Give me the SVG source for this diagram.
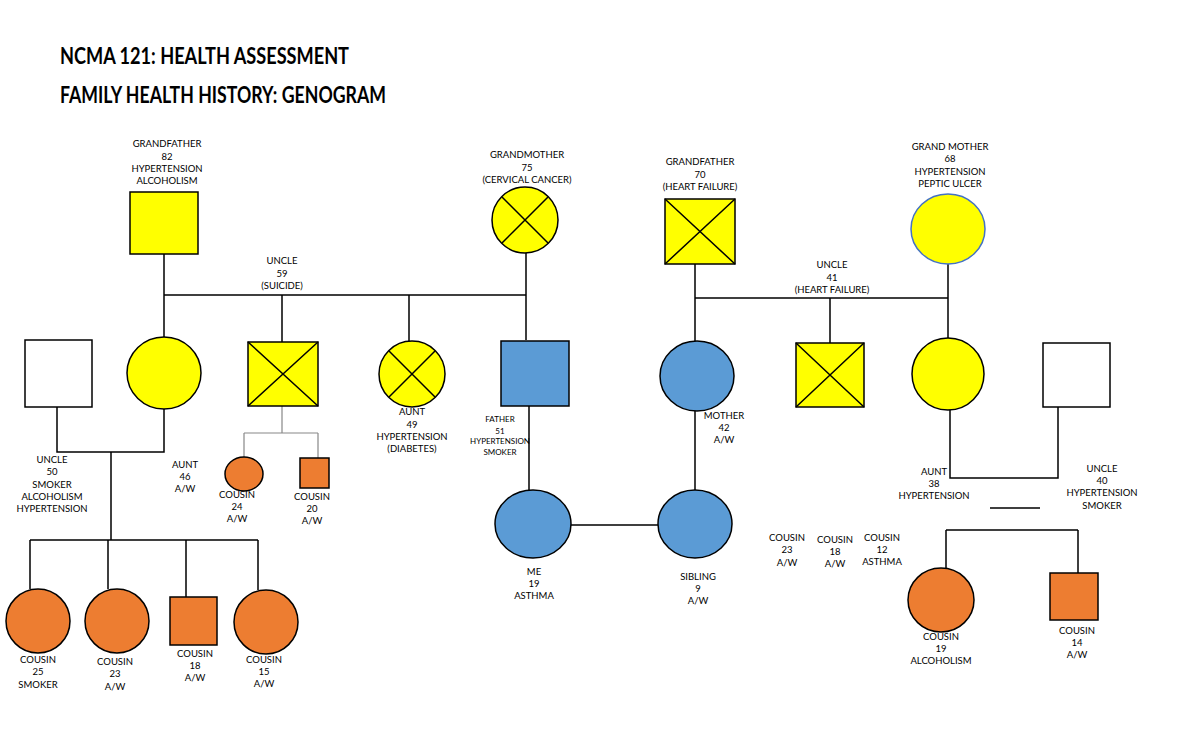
<svg xmlns="http://www.w3.org/2000/svg" width="1200" height="729" viewBox="0 0 1200 729">
<style>
.t{font-family:Lato,"Liberation Sans",sans-serif;font-size:9.5px;fill:#000;text-anchor:middle}
.s{font-size:8px}
.h{font-family:Lato,"Liberation Sans",sans-serif;font-size:22px;font-weight:bold;fill:#000}
.y{fill:#ffff00;stroke:#000;stroke-width:1.5}
.b{fill:#5b9bd5;stroke:#000;stroke-width:1.5}
.o{fill:#ed7d31;stroke:#000;stroke-width:1.5}
.w{fill:#fff;stroke:#000;stroke-width:1.5}
.l{stroke:#000;stroke-width:1.5;fill:none}
.g{stroke:#888;stroke-width:1.2;fill:none}
</style>
<rect width="1200" height="729" fill="#fff"/>
<text class="h" x="60" y="64" textLength="289" lengthAdjust="spacingAndGlyphs">NCMA 121: HEALTH ASSESSMENT</text>
<text class="h" x="60" y="103" textLength="326" lengthAdjust="spacingAndGlyphs">FAMILY HEALTH HISTORY: GENOGRAM</text>
<g id="connectors">
<path class="l" d="M164 254V295M164 295H526M526 253V340M164 295V337M282 295V342M409 295V341"/>
<path class="l" d="M695 264V341M695 298H948M948 264V338M830 298V343"/>
<path class="l" d="M57 407V452H164V409M111 452V540M30 540H258M30 540V589M108 540V589M186 540V597M258 540V590"/>
<path class="g" d="M282 406V433M244 433H318M244 433V457M318 433V458"/>
<path class="l" d="M529 406V490M695 411V490M571 525H658"/>
<path class="l" d="M950 410V478H1058V407M990 508H1040M946 530H1078M946 530V568M1078 530V573"/>
</g>
<g id="gf1"><rect class="y" x="130" y="192" width="68" height="62"/>
<text class="t"><tspan x="167" y="147">GRANDFATHER</tspan><tspan x="167" y="160">82</tspan><tspan x="167" y="172">HYPERTENSION</tspan><tspan x="167" y="184">ALCOHOLISM</tspan></text></g>
<g id="gm1"><circle class="y" cx="525" cy="220" r="33"/><path class="l" d="M502 197L548 243M548 197L502 243"/>
<text class="t"><tspan x="527" y="158">GRANDMOTHER</tspan><tspan x="527" y="171">75</tspan><tspan x="527" y="183">(CERVICAL CANCER)</tspan></text></g>
<g id="gf2"><rect class="y" x="665" y="199" width="70" height="65"/><path class="l" d="M665 199L735 264M735 199L665 264"/>
<text class="t"><tspan x="700" y="165">GRANDFATHER</tspan><tspan x="700" y="178">70</tspan><tspan x="700" y="190">(HEART FAILURE)</tspan></text></g>
<g id="gm2"><ellipse cx="948" cy="229" rx="37" ry="35" fill="#ffff00" stroke="#4472c4" stroke-width="1.5"/>
<text class="t"><tspan x="950" y="150">GRAND MOTHER</tspan><tspan x="950" y="162">68</tspan><tspan x="950" y="175">HYPERTENSION</tspan><tspan x="950" y="187">PEPTIC ULCER</tspan></text></g>
<g id="uncle50"><rect class="w" x="25" y="340" width="67" height="67"/>
<text class="t"><tspan x="52" y="463">UNCLE</tspan><tspan x="52" y="475">50</tspan><tspan x="52" y="488">SMOKER</tspan><tspan x="52" y="500">ALCOHOLISM</tspan><tspan x="52" y="512">HYPERTENSION</tspan></text></g>
<g id="aunt46"><ellipse class="y" cx="164" cy="373" rx="37" ry="36"/>
<text class="t"><tspan x="185" y="468">AUNT</tspan><tspan x="185" y="480">46</tspan><tspan x="185" y="492">A/W</tspan></text></g>
<g id="uncle59"><rect class="y" x="248" y="342" width="70" height="64"/><path class="l" d="M248 342L318 406M318 342L248 406"/>
<text class="t"><tspan x="282" y="264">UNCLE</tspan><tspan x="282" y="277">59</tspan><tspan x="282" y="289">(SUICIDE)</tspan></text></g>
<g id="aunt49"><circle class="y" cx="412" cy="374" r="33"/><path class="l" d="M389 351L435 397M435 351L389 397"/>
<text class="t"><tspan x="412" y="415">AUNT</tspan><tspan x="412" y="428">49</tspan><tspan x="412" y="440">HYPERTENSION</tspan><tspan x="412" y="452">(DIABETES)</tspan></text></g>
<g id="father"><rect class="b" x="501" y="341" width="68" height="65"/>
<text class="t s"><tspan x="500" y="422">FATHER</tspan><tspan x="500" y="434">51</tspan><tspan x="500" y="444">HYPERTENSION</tspan><tspan x="500" y="455">SMOKER</tspan></text></g>
<g id="mother"><ellipse class="b" cx="697" cy="376" rx="37" ry="35"/>
<text class="t"><tspan x="724" y="419">MOTHER</tspan><tspan x="724" y="431">42</tspan><tspan x="724" y="443">A/W</tspan></text></g>
<g id="uncle41"><rect class="y" x="796" y="343" width="68" height="64"/><path class="l" d="M796 343L864 407M864 343L796 407"/>
<text class="t"><tspan x="832" y="268">UNCLE</tspan><tspan x="832" y="281">41</tspan><tspan x="832" y="293">(HEART FAILURE)</tspan></text></g>
<g id="aunt38"><ellipse class="y" cx="948" cy="374" rx="36" ry="36"/>
<text class="t"><tspan x="934" y="475">AUNT</tspan><tspan x="934" y="487">38</tspan><tspan x="934" y="499">HYPERTENSION</tspan></text></g>
<g id="uncle40"><rect class="w" x="1043" y="343" width="67" height="64"/>
<text class="t"><tspan x="1102" y="472">UNCLE</tspan><tspan x="1102" y="484">40</tspan><tspan x="1102" y="496">HYPERTENSION</tspan><tspan x="1102" y="509">SMOKER</tspan></text></g>
<g id="c24"><ellipse class="o" cx="244" cy="474" rx="19" ry="17"/>
<text class="t"><tspan x="237" y="498">COUSIN</tspan><tspan x="237" y="510">24</tspan><tspan x="237" y="522">A/W</tspan></text></g>
<g id="c20"><rect class="o" x="300" y="458" width="29" height="30"/>
<text class="t"><tspan x="312" y="500">COUSIN</tspan><tspan x="312" y="512">20</tspan><tspan x="312" y="524">A/W</tspan></text></g>
<g id="c25"><circle class="o" cx="38" cy="621" r="32"/>
<text class="t"><tspan x="38" y="663">COUSIN</tspan><tspan x="38" y="675">25</tspan><tspan x="38" y="688">SMOKER</tspan></text></g>
<g id="c23a"><circle class="o" cx="117" cy="621" r="32"/>
<text class="t"><tspan x="115" y="665">COUSIN</tspan><tspan x="115" y="677">23</tspan><tspan x="115" y="690">A/W</tspan></text></g>
<g id="c18a"><rect class="o" x="170" y="597" width="47" height="48"/>
<text class="t"><tspan x="195" y="657">COUSIN</tspan><tspan x="195" y="669">18</tspan><tspan x="195" y="681">A/W</tspan></text></g>
<g id="c15"><circle class="o" cx="266" cy="622" r="32"/>
<text class="t"><tspan x="264" y="663">COUSIN</tspan><tspan x="264" y="675">15</tspan><tspan x="264" y="687">A/W</tspan></text></g>
<g id="me"><ellipse class="b" cx="533" cy="524" rx="38" ry="34"/>
<text class="t"><tspan x="534" y="575">ME</tspan><tspan x="534" y="587">19</tspan><tspan x="534" y="599">ASTHMA</tspan></text></g>
<g id="sibling"><ellipse class="b" cx="695" cy="524" rx="37" ry="34"/>
<text class="t"><tspan x="698" y="580">SIBLING</tspan><tspan x="698" y="592">9</tspan><tspan x="698" y="604">A/W</tspan></text></g>
<g id="floating">
<text class="t"><tspan x="787" y="541">COUSIN</tspan><tspan x="787" y="553">23</tspan><tspan x="787" y="566">A/W</tspan></text>
<text class="t"><tspan x="835" y="543">COUSIN</tspan><tspan x="835" y="555">18</tspan><tspan x="835" y="567">A/W</tspan></text>
<text class="t"><tspan x="882" y="541">COUSIN</tspan><tspan x="882" y="553">12</tspan><tspan x="882" y="565">ASTHMA</tspan></text></g>
<g id="c19"><ellipse class="o" cx="941" cy="600" rx="33" ry="32"/>
<text class="t"><tspan x="941" y="640">COUSIN</tspan><tspan x="941" y="652">19</tspan><tspan x="941" y="664">ALCOHOLISM</tspan></text></g>
<g id="c14"><rect class="o" x="1050" y="573" width="48" height="47"/>
<text class="t"><tspan x="1077" y="634">COUSIN</tspan><tspan x="1077" y="646">14</tspan><tspan x="1077" y="658">A/W</tspan></text></g>
</svg>
